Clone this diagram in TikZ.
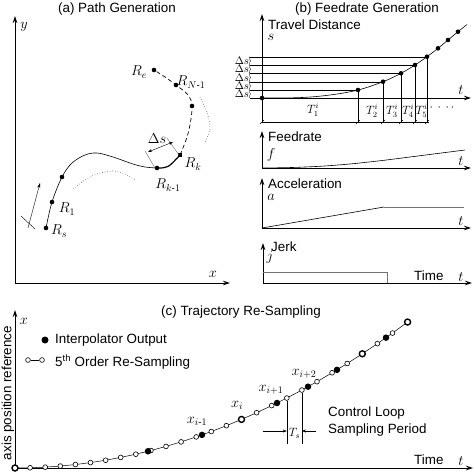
\documentclass[tikz,border=0pt]{standalone}
\usepackage{amsmath}
\usepackage{fontspec}
\setmainfont{Liberation Sans}
\usetikzlibrary{arrows.meta,decorations.pathreplacing}
\begin{document}
\begin{tikzpicture}[x=1pt,y=-1pt,
  axis/.style={line width=0.8pt,-{Stealth[length=7pt,width=4.5pt]}},
  lbl/.style={font=\fontsize{13.4}{15}\selectfont,inner sep=0pt},
  mlbl/.style={font=\fontsize{14}{16}\selectfont,inner sep=0pt},
  tlbl/.style={font=\fontsize{11.5}{13}\selectfont,inner sep=0pt},
  slbl/.style={font=\fontsize{11}{12}\selectfont,inner sep=0pt},
  dot/.style={circle,fill=black,inner sep=0pt,minimum size=4.6pt},
  sqdot/.style={rectangle,fill=black,inner sep=0pt,minimum size=4pt},
  bigdot/.style={circle,fill=black,inner sep=0pt,minimum size=6.5pt},
  odot/.style={circle,draw=black,fill=white,inner sep=0pt,minimum size=4.8pt,line width=0.6pt},
  bodot/.style={circle,draw=black,fill=white,inner sep=0pt,minimum size=6pt,line width=1.4pt},
  thinline/.style={line width=0.4pt},
  grayline/.style={line width=0.6pt,black!55},
  tick/.style={line width=0.5pt}]
\useasboundingbox (0,0) rectangle (474,474);

% ================= Panel (a) =================
\node[lbl] (ta) at (117,9) {(a) Path Generation};
\coordinate (oa) at (15,283);
\coordinate (ya) at (15,16);
\coordinate (xa) at (230,283);
\draw[axis] (oa) -- (ya);
\draw[axis] (oa) -- (xa);
\node[mlbl] (ly) at (24,27) {$y$};
\node[mlbl] (lx) at (213,274) {$x$};

% paths
\draw[line width=0.6pt] plot[smooth,tension=0.55] coordinates
  {(46,228)(52,202)(62,177)(72,163)(85,155)(97,153)(113,157)(133,164)(145,167)(157,168)};
\draw[line width=1.2pt] (157,168) .. controls (168,168) .. (180,155);
\draw[line width=0.7pt,dash pattern=on 4pt off 3pt] plot[smooth,tension=0.6] coordinates
  {(180,155)(186,140)(190,125)(192,106)(188,95)(176,85)(165,77)(154,70)};
\draw[dotted,line width=0.6pt,black!70] plot[smooth] coordinates
  {(73,189)(85,180)(97,174)(113,171)(125,174)(135,180)};
\draw[dotted,line width=0.6pt,black!70] plot[smooth] coordinates
  {(200,97)(207,112)(210,128)(205,143)};

\node[dot] (Rs) at (46,228) {};
\node[dot] (R1) at (52,202) {};
\node[dot] (R2) at (62,177) {};
\node[dot] (Rkm) at (157,168) {};
\node[sqdot] (Rk) at (180,155) {};
\node[dot] (Rm) at (192,106) {};
\node[dot] (RN) at (176,85) {};
\node[dot] (Re) at (154,70) {};

\node[mlbl] (lRs) at (59,231) {$R_s$};
\node[mlbl] (lR1) at (67,209) {$R_1$};
\node[mlbl] (lRkm) at (168,185) {$R_{k\text{-}1}$};
\node[mlbl] (lRk) at (193,164) {$R_k$};
\node[mlbl] (lRe) at (139,72) {$R_e$};
\node[mlbl] (lRN) at (191,82) {$R_{N\text{-}1}$};

% delta s dimension
\coordinate (e1a) at (145,151);
\coordinate (e1b) at (155,168);
\coordinate (e2a) at (167,138);
\coordinate (e2b) at (179,155);
\draw[thinline,black!60] (e1a) -- (e1b);
\draw[thinline,black!60] (e2a) -- (e2b);
\coordinate (da) at (148,152);
\coordinate (db) at (173,142);
\draw[thinline,{Stealth[length=4pt,width=3pt]}-{Stealth[length=4pt,width=3pt]}] (da) -- (db);
\node[mlbl] (lds) at (157,139) {$\Delta s$};

% start arrow with cross
\coordinate (sa) at (28,228);
\coordinate (sb) at (40,183);
\draw[thinline,-{Stealth[length=5pt,width=3pt]}] (sa) -- (sb);
\coordinate (xc1) at (21,216);
\coordinate (xc2) at (35,229);
\draw[thinline] (xc1) -- (xc2);

% ================= Panel (b) =================
\node[lbl] (tb) at (367,9) {(b) Feedrate Generation};

% travel distance
\coordinate (b1o) at (262,98);
\coordinate (b1top) at (262,14);
\coordinate (b1bot) at (262,122);
\coordinate (b1r) at (471,98);
\draw[axis] (b1bot) -- (b1top);
\draw[axis] (b1o) -- (b1r);
\node[lbl,anchor=west] (lTD) at (268,25) {Travel Distance};
\node[mlbl] (ls) at (271,37) {$s$};
\node[mlbl] (lt1) at (461,90) {$t$};

\draw[line width=0.6pt] plot[smooth,tension=0.6] coordinates
  {(262,98)(300,97.6)(330,95)(358,90)(383,81.7)(401,73.3)(415,65)(427,56.7)(438,48.3)(448,40)(458,31.7)(467,24.5)};

\node[dot] (b0) at (262,98) {};
\node[dot] (bd1) at (358,90) {};
\node[dot] (bd2) at (383,81.7) {};
\node[dot] (bd3) at (401,73.3) {};
\node[dot] (bd4) at (415,65) {};
\node[dot] (bd5) at (427,56.7) {};
\node[dot] (bd6) at (438,48.3) {};
\node[dot] (bd7) at (448,40) {};
\node[dot] (bd8) at (458,31.7) {};

\coordinate (hl) at (250,0);
\foreach \k in {1,...,5}{
  \draw[thinline] (bd\k.center -| hl) -- (bd\k.center);
  \draw[thinline] (bd\k.center) -- (bd\k.center |- b1bot);
}
\draw[thinline] (250,98) -- (b0);

% braces and delta s labels
\foreach \ya/\yb/\yl in {56.7/65/60.9, 65/73.3/69.2, 73.3/81.7/77.5, 81.7/90/85.9, 90/98/94}{
  \draw[thinline,decorate,decoration={brace,amplitude=1.5pt}] (249,\ya) -- (249,\yb);
  \node[slbl] at (242,\yl) {$\Delta s$};
}

% time intervals
\coordinate (dimr) at (429,122);
\draw[thinline] (b1bot) -- (dimr);
\foreach \xx in {262,358,383,401,415,427}{
  \draw[tick] (\xx-2,124) -- (\xx+2,120);
}
\node[tlbl] (T1) at (313,110) {$T_1^i$};
\node[tlbl] (T2) at (372,111) {$T_2^i$};
\node[tlbl] (T3) at (392,111) {$T_3^i$};
\node[tlbl] (T4) at (408,111) {$T_4^i$};
\node[tlbl] (T5) at (421.5,111) {$T_5^i$};
\node[tlbl] (Tdots) at (442,108) {$\cdot\,\cdot\,\cdot\,\cdot$};

% feedrate
\coordinate (b2o) at (262,168);
\coordinate (b2top) at (262,131);
\coordinate (b2r) at (471,168);
\draw[axis] (b2o) -- (b2top);
\draw[axis] (b2o) -- (b2r);
\node[lbl,anchor=west] (lFR) at (268,137) {Feedrate};
\node[mlbl] (lf) at (271,155) {$f$};
\node[mlbl] (lt2) at (461,161) {$t$};
\draw[line width=0.6pt] plot[smooth] coordinates {(262,168)(292,167.5)(323,166.1)(353,163.7)(384,160.3)} -- (465,150);

% acceleration
\coordinate (b3o) at (262,228);
\coordinate (b3top) at (262,178);
\coordinate (b3r) at (471,228);
\draw[axis] (b3o) -- (b3top);
\draw[axis] (b3o) -- (b3r);
\node[lbl,anchor=west] (lAC) at (268,184) {Acceleration};
\node[mlbl] (la) at (271,197) {$a$};
\node[mlbl] (lt3) at (461,221) {$t$};
\coordinate (acc1) at (384,207);
\coordinate (acc2) at (464,207);
\draw[line width=0.6pt] (b3o) -- (acc1);
\draw[grayline] (acc1) -- (acc2);

% jerk
\coordinate (b4o) at (263,283);
\coordinate (b4top) at (263,243);
\coordinate (b4r) at (472,283);
\draw[axis] (b4o) -- (b4top);
\draw[axis] (b4o) -- (b4r);
\node[lbl,anchor=west] (lJ) at (271,247) {Jerk};
\node[mlbl] (lj) at (270,257) {$j$};
\coordinate (j1) at (263,272);
\coordinate (j2) at (387,272);
\coordinate (j3) at (387,283);
\draw[grayline] (j1) -- (j2) -- (j3);
\node[lbl,anchor=west] (lTime1) at (414,276) {Time};
\node[mlbl] (lt4) at (461,277) {$t$};

% ================= Panel (c) =================
\node[lbl] (tc) at (241,312) {(c) Trajectory Re-Sampling};
\coordinate (co) at (15,468);
\coordinate (cbot) at (15,471);
\coordinate (ctop) at (15,310);
\coordinate (cr) at (473,468);
\draw[axis] (cbot) -- (ctop);
\draw[axis] (co) -- (cr);
\node[mlbl] (lxc) at (24,321) {$x$};
\node[lbl,rotate=90] (lapr) at (8,393) {axis position reference};
\node[lbl,anchor=west] (lTime2) at (414,460) {Time};
\node[mlbl] (lt5) at (461,461) {$t$};

% trajectory
\draw[line width=0.5pt] plot[domain=15:407.6,samples=27] (\x,{468-9.47*((\x-15)/100)^2});
\foreach \n in {0,...,26}{
  \pgfmathsetmacro\xx{15+15.1*\n}
  \pgfmathsetmacro\yy{468-9.47*((\xx-15)/100)^2}
  \node[odot] (c\n) at (\xx,\yy) {};
}
\foreach \n in {0,15,23,26}{
  \node[bodot] at (c\n) {};
}
\foreach \xx [count=\i] in {148,202,277,308,337,386}{
  \pgfmathsetmacro\yy{468-9.47*((\xx-15)/100)^2}
  \node[bigdot] (ip\i) at (\xx,\yy) {};
}

\node[mlbl] (lxim) at (197,421) {$x_{i\text{-}1}$};
\node[mlbl] (lxi) at (237,405) {$x_i$};
\node[mlbl] (lxip) at (271,390) {$x_{i+1}$};
\node[mlbl] (lxipp) at (304,374) {$x_{i+2}$};

% Ts
\coordinate (tsb) at (0,444);
\draw[thinline] (c18.south) -- (c18.south |- tsb);
\draw[thinline] (c19.south) -- (c19.south |- tsb);
\coordinate (tsl) at (263,431);
\coordinate (tsr) at (316,431);
\draw[thinline,-{Stealth[length=4pt,width=3pt]}] (tsl) -- (tsl -| c18);
\draw[thinline,-{Stealth[length=4pt,width=3pt]}] (tsr) -- (tsr -| c19);
\node[tlbl] (lTs) at (294.5,433) {$T_s$};
\node[lbl,anchor=west] (lCL) at (328,413) {Control Loop};
\node[lbl,anchor=west] (lSP) at (328,430) {Sampling Period};

% legend
\node[bigdot,minimum size=7pt] (lg1) at (45,340) {};
\node[lbl,anchor=west] (lIO) at (55,340) {Interpolator Output};
\node[odot] (lg2a) at (28,360) {};
\node[odot] (lg2b) at (42,360) {};
\draw[line width=0.5pt] (lg2a) -- (lg2b);
\node[lbl,anchor=west] (lRS) at (55,362) {5\textsuperscript{th} Order Re-Sampling};
\end{tikzpicture}
\end{document}
